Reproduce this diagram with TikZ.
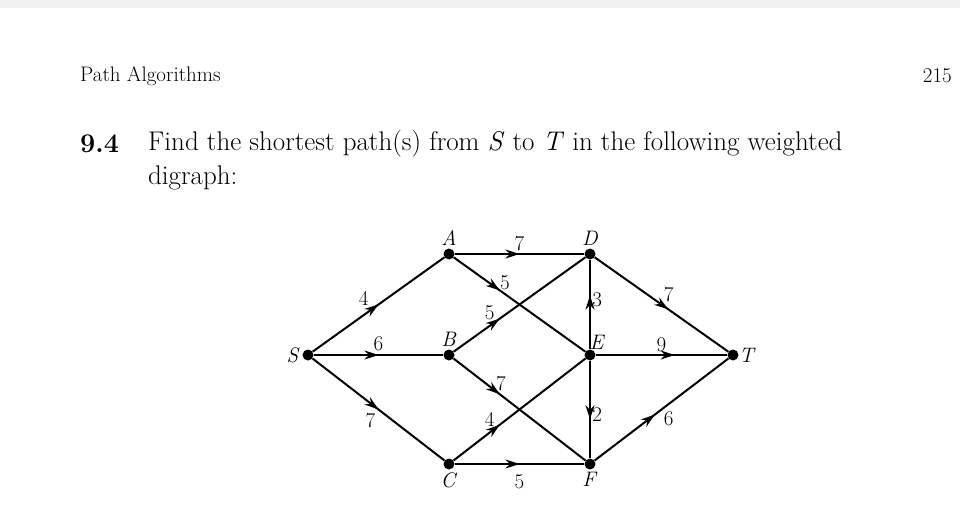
\documentclass[tikz,border=0pt]{standalone}
\usetikzlibrary{decorations.markings,arrows.meta}
\begin{document}
\begin{tikzpicture}[x=1pt,y=-1pt,
  v/.style={circle,fill=black,inner sep=0pt,minimum size=11pt},
  lab/.style={font=\fontsize{21}{21}\selectfont},
  e/.style={line width=2pt,postaction={decorate},decoration={markings,mark=at position #1 with {\arrow{Stealth[length=14pt,width=9pt]}}}},
  e/.default=0.55]
\useasboundingbox (0,0) rectangle (960,513);
\fill[black!6] (0,0) rectangle (960,8);
\node[anchor=west,font=\fontsize{21}{21}\selectfont,inner sep=0pt] (hd) at (80,76) {Path Algorithms};
\node[anchor=east,font=\fontsize{21}{21}\selectfont,inner sep=0pt] (pg) at (952,76) {215};
\node[anchor=west,font=\fontsize{27}{27}\selectfont\bfseries,inner sep=0pt] (num) at (80,144) {9.4};
\node[anchor=west,font=\fontsize{27}{27}\selectfont,inner sep=0pt] (q1) at (148,144) {Find the shortest path(s) from \textit{S} to \textit{T} in the following weighted};
\node[anchor=west,font=\fontsize{27}{27}\selectfont,inner sep=0pt] (q2) at (148,178) {digraph:};
\node[v] (S) at (308,355) {};
\node[v] (A) at (449,254) {};
\node[v] (B) at (449,355) {};
\node[v] (C) at (449,464) {};
\node[v] (D) at (590,254) {};
\node[v] (E) at (590,355) {};
\node[v] (F) at (590,464) {};
\node[v] (T) at (733,355) {};
\node[lab,left=-1pt] at (S.west) {\textit{S}};
\node[lab,above=-1pt] at (A.north) {\textit{A}};
\node[lab,above=-1pt] at (B.north) {\textit{B}};
\node[lab,below=-1pt] at (C.south) {\textit{C}};
\node[lab,above=-1pt] at (D.north) {\textit{D}};
\node[lab,above right=-4pt] at (E.north) {\textit{E}};
\node[lab,below=-1pt] at (F.south) {\textit{F}};
\node[lab,right=-3pt] at (T.east) {\textit{T}};
\draw[e=0.5] (S) -- node[lab,above left=-1pt,pos=0.45]{4} (A);
\draw[e=0.5] (S) -- node[lab,above]{6} (B);
\draw[e=0.5] (S) -- node[lab,below left=-1pt,pos=0.5]{7} (C);
\draw[e=0.5] (A) -- node[lab,above=-1pt]{7} (D);
\draw[e=0.35] (A) -- node[lab,above right=-4pt,pos=0.35]{5} (E);
\draw[e=0.35] (B) -- node[lab,above left=-3pt,pos=0.32]{5} (D);
\draw[e=0.35] (B) -- node[lab,above right=-4pt,pos=0.32]{7} (F);
\draw[e=0.35] (C) -- node[lab,above left=-3pt,pos=0.32]{4} (E);
\draw[e=0.5] (C) -- node[lab,below=6pt]{5} (F);
\draw[e=0.6] (E) -- node[lab,right=-2pt,pos=0.55]{3} (D);
\draw[e=0.6] (E) -- node[lab,right=-2pt,pos=0.55]{2} (F);
\draw[e=0.6] (E) -- node[lab,above=-1pt]{9} (T);
\draw[e=0.55] (D) -- node[lab,above right=-2pt]{7} (T);
\draw[e=0.45] (F) -- node[lab,below right=-2pt]{6} (T);
\end{tikzpicture}
\end{document}
